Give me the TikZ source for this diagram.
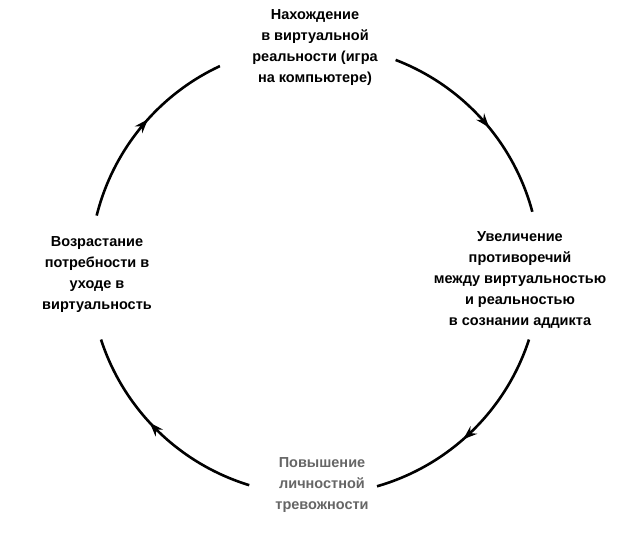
\documentclass[tikz,border=0pt]{standalone}
\usepackage{fontspec}
\setmainfont{Liberation Sans}
\usetikzlibrary{decorations.markings,arrows.meta}

\begin{document}
\begin{tikzpicture}[x=1pt,y=1pt,
            stage-node/.style={align=center,font=\fontsize{14.5}{21}\selectfont\bfseries},
            cycle-arc/.style={line width=2.6pt,postaction={decorate},
                decoration={markings,mark=at position 0.55 with {\arrow{Stealth[length=14pt,width=10pt]}}}},
        ]
            \useasboundingbox (0,0) rectangle (633,-544);
            \coordinate (c) at (315,-270);

            \node[stage-node] (game) at (315,-48) {Нахождение\\в виртуальной\\реальности (игра\\на компьютере)};
            \node[stage-node] (contra) at (520,-280) {Увеличение\\противоречий\\между виртуальностью\\и реальностью\\в сознании аддикта};
            \node[stage-node,text=black!60] (anxiety) at (322,-485) {Повышение\\личностной\\тревожности};
            \node[stage-node] (escape) at (97,-275) {Возрастание\\потребности в\\уходе в\\виртуальность};

            \draw[cycle-arc] ([shift={(69:225)}]c) arc (69:15:225);
            \draw[cycle-arc] ([shift={(-18:225)}]c) arc (-18:-74:225);
            \draw[cycle-arc] ([shift={(-107:225)}]c) arc (-107:-162:225);
            \draw[cycle-arc] ([shift={(166:225)}]c) arc (166:115:225);
        \end{tikzpicture}
\end{document}
